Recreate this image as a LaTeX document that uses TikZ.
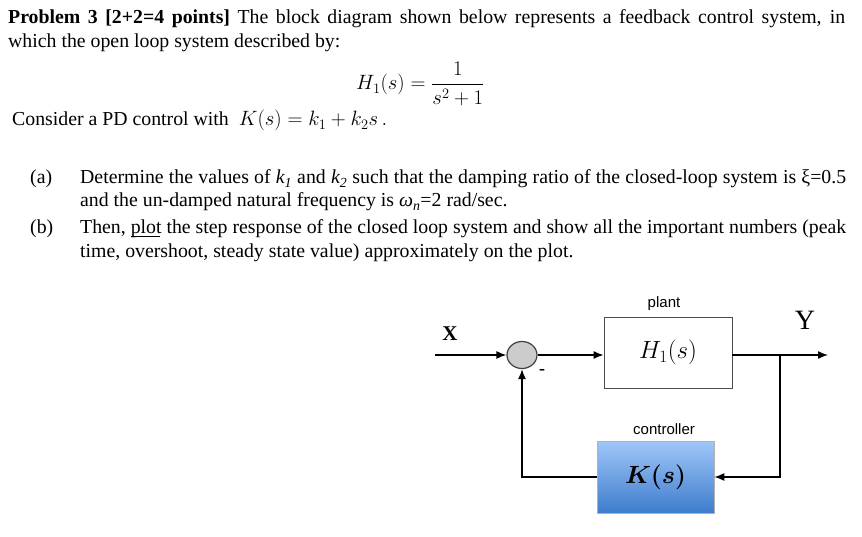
\documentclass[tikz,border=0pt]{standalone}
\usepackage{amsmath}
\usepackage{fontspec}
\setmainfont{Liberation Serif}
\newfontfamily\arialf{Liberation Sans}
\usetikzlibrary{arrows.meta,shapes.geometric}
\begin{document}
\begin{tikzpicture}[x=1pt,y=-1pt,
  txt/.style={anchor=base west,inner sep=0pt,font=\fontsize{19.8}{24}\selectfont},
  lbl/.style={inner sep=0pt,font=\arialf\fontsize{15}{18}\selectfont},
  arr/.style={-{Latex[length=10pt,width=8pt]},line width=1.4pt},
  ln/.style={line width=1.4pt}]
\useasboundingbox (0,0) rectangle (862,537);
% text
\node[txt] (t1) at (8,24) {\makebox[837pt][s]{\textbf{Problem 3 [2+2=4 points]} The block diagram shown below represents a feedback control system, in}};
\node[txt] (t2) at (8,48) {which the open loop system described by:};
\node[txt,font=\fontsize{21}{24}\selectfont] (t3) at (356,90) {$H_1(s)=\dfrac{1}{s^2+1}$};
\node[txt] (t4) at (12,126) {Consider a PD control with \ $K(s)=k_1+k_2 s\,.$};
\node[txt] (a1) at (30,184) {(a)};
\node[txt] (a2) at (80,184) {\makebox[766pt][s]{Determine the values of \textit{k\textsubscript{1}} and \textit{k\textsubscript{2}} such that the damping ratio of the closed-loop system is ξ=0.5}};
\node[txt] (a3) at (80,207) {and the un-damped natural frequency is \textit{ω\textsubscript{n}}=2 rad/sec.};
\node[txt] (b1) at (30,234) {(b)};
\node[txt] (b2) at (80,234) {\makebox[766pt][s]{Then, \rlap{\rule[-3pt]{29pt}{1.2pt}}plot the step response of the closed loop system and show all the important numbers (peak}};
\node[txt] (b3) at (80,258) {time, overshoot, steady state value) approximately on the plot.};
% diagram
\coordinate (in) at (435,355);
\node[ellipse,draw=black!75,fill=black!20,line width=1.2pt,minimum width=30pt,minimum height=27pt,inner sep=0pt] (sum) at (522,355) {};
\node[draw=black!70,line width=0.8pt,minimum width=128pt,minimum height=71pt,inner sep=0pt] (plant) at (668,352.5) {\fontsize{27}{30}\selectfont $H_1(s)$};
\node[draw=black!30,line width=0.6pt,minimum width=117pt,minimum height=72pt,inner sep=0pt,top color={rgb,255:red,160;green,198;blue,248},bottom color={rgb,255:red,62;green,125;blue,205}] (ctrl) at (655.5,477) {\fontsize{26}{30}\selectfont $\boldsymbol{K(s)}$};
\node[lbl] (pl) at (664,304) {plant};
\node[lbl] (cl) at (664,429) {controller};
\node[inner sep=0pt,font=\fontsize{21}{24}\selectfont\bfseries] (X) at (450,334) {X};
\node[inner sep=0pt,font=\fontsize{28}{30}\selectfont] (Y) at (805,320) {Y};
\node[inner sep=0pt,font=\fontsize{18}{20}\selectfont\bfseries] (m) at (542,372) {-};
\coordinate (br) at (780,355);
\coordinate (out) at (828,355);
\draw[arr] (in) -- (sum.west);
\draw[arr] (sum.east) -- (plant.west |- sum.east);
\draw[ln] (plant.east |- sum.east) -- (br);
\draw[arr] (br) -- (out);
\draw[arr] (br) |- (ctrl.east);
\draw[arr] (ctrl.west) -| (sum.south);
\end{tikzpicture}
\end{document}
